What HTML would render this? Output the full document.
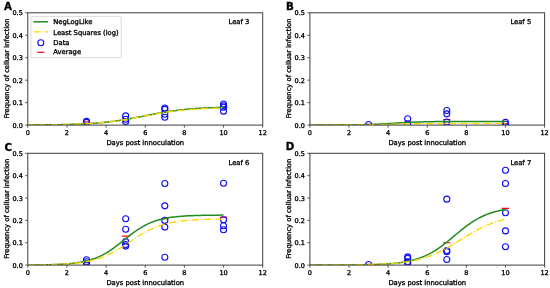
<!DOCTYPE html><html><head><meta charset="utf-8"><style>html,body{margin:0;padding:0;background:#fff}svg{display:block}</style></head><body><svg width="550" height="288" viewBox="0 0 550 288">
<rect width="550" height="288" fill="#fff"/>
<g>
<clipPath id="cA"><rect x="27.8" y="12.8" width="234.89999999999998" height="112.3"/></clipPath>
<g clip-path="url(#cA)">
<line x1="82.82" x2="90.22" y1="121.84" y2="121.84" stroke="#f80808" stroke-width="1.2"/>
<line x1="121.97" x2="129.38" y1="119.71" y2="119.71" stroke="#f80808" stroke-width="1.2"/>
<line x1="161.13" x2="168.53" y1="112.07" y2="112.07" stroke="#f80808" stroke-width="1.2"/>
<line x1="219.85" x2="227.25" y1="107.13" y2="107.13" stroke="#f80808" stroke-width="1.2"/>
<circle cx="86.52" cy="122.40" r="3.0" fill="none" stroke="#0c0cfa" stroke-width="1.1"/>
<circle cx="86.52" cy="121.28" r="3.0" fill="none" stroke="#0c0cfa" stroke-width="1.1"/>
<circle cx="125.67" cy="121.51" r="3.0" fill="none" stroke="#0c0cfa" stroke-width="1.1"/>
<circle cx="125.67" cy="119.26" r="3.0" fill="none" stroke="#0c0cfa" stroke-width="1.1"/>
<circle cx="125.67" cy="115.89" r="3.0" fill="none" stroke="#0c0cfa" stroke-width="1.1"/>
<circle cx="164.83" cy="117.24" r="3.0" fill="none" stroke="#0c0cfa" stroke-width="1.1"/>
<circle cx="164.83" cy="114.32" r="3.0" fill="none" stroke="#0c0cfa" stroke-width="1.1"/>
<circle cx="164.83" cy="109.38" r="3.0" fill="none" stroke="#0c0cfa" stroke-width="1.1"/>
<circle cx="164.83" cy="108.03" r="3.0" fill="none" stroke="#0c0cfa" stroke-width="1.1"/>
<circle cx="223.55" cy="111.17" r="3.0" fill="none" stroke="#0c0cfa" stroke-width="1.1"/>
<circle cx="223.55" cy="107.13" r="3.0" fill="none" stroke="#0c0cfa" stroke-width="1.1"/>
<circle cx="223.55" cy="105.78" r="3.0" fill="none" stroke="#0c0cfa" stroke-width="1.1"/>
<circle cx="223.55" cy="103.99" r="3.0" fill="none" stroke="#0c0cfa" stroke-width="1.1"/>
<polyline points="27.80,124.98 29.43,124.98 31.06,124.97 32.69,124.96 34.33,124.95 35.96,124.94 37.59,124.92 39.22,124.91 40.85,124.90 42.48,124.88 44.11,124.87 45.74,124.85 47.38,124.83 49.01,124.81 50.64,124.79 52.27,124.77 53.90,124.75 55.53,124.72 57.16,124.69 58.79,124.66 60.42,124.63 62.06,124.60 63.69,124.56 65.32,124.52 66.95,124.48 68.58,124.44 70.21,124.39 71.84,124.34 73.48,124.29 75.11,124.23 76.74,124.17 78.37,124.11 80.00,124.04 81.63,123.97 83.26,123.89 84.89,123.81 86.52,123.72 88.16,123.63 89.79,123.53 91.42,123.42 93.05,123.31 94.68,123.20 96.31,123.07 97.94,122.94 99.57,122.80 101.21,122.66 102.84,122.50 104.47,122.34 106.10,122.17 107.73,121.99 109.36,121.80 110.99,121.61 112.62,121.40 114.26,121.19 115.89,120.97 117.52,120.74 119.15,120.50 120.78,120.25 122.41,119.99 124.04,119.73 125.67,119.45 127.31,119.17 128.94,118.89 130.57,118.59 132.20,118.29 133.83,117.99 135.46,117.68 137.09,117.36 138.72,117.04 140.36,116.72 141.99,116.40 143.62,116.08 145.25,115.75 146.88,115.43 148.51,115.11 150.14,114.79 151.78,114.47 153.41,114.16 155.04,113.85 156.67,113.54 158.30,113.24 159.93,112.95 161.56,112.66 163.19,112.39 164.83,112.11 166.46,111.85 168.09,111.60 169.72,111.35 171.35,111.11 172.98,110.88 174.61,110.66 176.24,110.45 177.88,110.25 179.51,110.05 181.14,109.87 182.77,109.69 184.40,109.52 186.03,109.36 187.66,109.21 189.29,109.07 190.93,108.93 192.56,108.80 194.19,108.68 195.82,108.56 197.45,108.45 199.08,108.35 200.71,108.25 202.34,108.16 203.97,108.07 205.61,107.99 207.24,107.91 208.87,107.84 210.50,107.77 212.13,107.71 213.76,107.65 215.39,107.59 217.03,107.54 218.66,107.49 220.29,107.45 221.92,107.40 223.55,107.36" fill="none" stroke="#228B22" stroke-width="1.5"/>
<polyline points="27.80,124.98 29.43,124.98 31.06,124.97 32.69,124.96 34.33,124.95 35.96,124.93 37.59,124.92 39.22,124.91 40.85,124.90 42.48,124.88 44.11,124.87 45.74,124.85 47.38,124.83 49.01,124.81 50.64,124.79 52.27,124.77 53.90,124.74 55.53,124.72 57.16,124.69 58.79,124.66 60.42,124.63 62.06,124.60 63.69,124.56 65.32,124.52 66.95,124.48 68.58,124.44 70.21,124.39 71.84,124.34 73.48,124.29 75.11,124.23 76.74,124.17 78.37,124.11 80.00,124.04 81.63,123.97 83.26,123.89 84.89,123.81 86.52,123.72 88.16,123.63 89.79,123.53 91.42,123.42 93.05,123.31 94.68,123.19 96.31,123.07 97.94,122.94 99.57,122.80 101.21,122.66 102.84,122.50 104.47,122.34 106.10,122.18 107.73,122.00 109.36,121.81 110.99,121.62 112.62,121.42 114.26,121.21 115.89,120.99 117.52,120.76 119.15,120.52 120.78,120.28 122.41,120.03 124.04,119.77 125.67,119.50 127.31,119.23 128.94,118.95 130.57,118.66 132.20,118.37 133.83,118.07 135.46,117.77 137.09,117.46 138.72,117.16 140.36,116.85 141.99,116.53 143.62,116.22 145.25,115.91 146.88,115.60 148.51,115.29 150.14,114.98 151.78,114.68 153.41,114.38 155.04,114.08 156.67,113.79 158.30,113.51 159.93,113.23 161.56,112.96 163.19,112.70 164.83,112.44 166.46,112.19 168.09,111.95 169.72,111.72 171.35,111.49 172.98,111.28 174.61,111.07 176.24,110.87 177.88,110.68 179.51,110.50 181.14,110.33 182.77,110.16 184.40,110.00 186.03,109.85 187.66,109.71 189.29,109.58 190.93,109.45 192.56,109.33 194.19,109.21 195.82,109.10 197.45,109.00 199.08,108.91 200.71,108.81 202.34,108.73 203.97,108.65 205.61,108.57 207.24,108.50 208.87,108.44 210.50,108.37 212.13,108.31 213.76,108.26 215.39,108.21 217.03,108.16 218.66,108.11 220.29,108.07 221.92,108.03 223.55,107.99" fill="none" stroke="#FFD700" stroke-width="1.35" stroke-dasharray="7 1.75 1.1 1.75"/>
</g>
<rect x="27.8" y="12.8" width="234.89999999999998" height="112.3" fill="none" stroke="#3c3c3c" stroke-width="1.0"/>
<line x1="27.80" x2="27.80" y1="125.1" y2="127.69999999999999" stroke="#3c3c3c" stroke-width="0.85"/>
<text x="27.80" y="135.35" font-size="6.55" text-anchor="middle" font-family="DejaVu Sans, Liberation Sans, sans-serif" fill="#000" stroke="#000" stroke-width="0.32">0</text>
<line x1="66.95" x2="66.95" y1="125.1" y2="127.69999999999999" stroke="#3c3c3c" stroke-width="0.85"/>
<text x="66.95" y="135.35" font-size="6.55" text-anchor="middle" font-family="DejaVu Sans, Liberation Sans, sans-serif" fill="#000" stroke="#000" stroke-width="0.32">2</text>
<line x1="106.10" x2="106.10" y1="125.1" y2="127.69999999999999" stroke="#3c3c3c" stroke-width="0.85"/>
<text x="106.10" y="135.35" font-size="6.55" text-anchor="middle" font-family="DejaVu Sans, Liberation Sans, sans-serif" fill="#000" stroke="#000" stroke-width="0.32">4</text>
<line x1="145.25" x2="145.25" y1="125.1" y2="127.69999999999999" stroke="#3c3c3c" stroke-width="0.85"/>
<text x="145.25" y="135.35" font-size="6.55" text-anchor="middle" font-family="DejaVu Sans, Liberation Sans, sans-serif" fill="#000" stroke="#000" stroke-width="0.32">6</text>
<line x1="184.40" x2="184.40" y1="125.1" y2="127.69999999999999" stroke="#3c3c3c" stroke-width="0.85"/>
<text x="184.40" y="135.35" font-size="6.55" text-anchor="middle" font-family="DejaVu Sans, Liberation Sans, sans-serif" fill="#000" stroke="#000" stroke-width="0.32">8</text>
<line x1="223.55" x2="223.55" y1="125.1" y2="127.69999999999999" stroke="#3c3c3c" stroke-width="0.85"/>
<text x="223.55" y="135.35" font-size="6.55" text-anchor="middle" font-family="DejaVu Sans, Liberation Sans, sans-serif" fill="#000" stroke="#000" stroke-width="0.32">10</text>
<line x1="262.70" x2="262.70" y1="125.1" y2="127.69999999999999" stroke="#3c3c3c" stroke-width="0.85"/>
<text x="262.70" y="135.35" font-size="6.55" text-anchor="middle" font-family="DejaVu Sans, Liberation Sans, sans-serif" fill="#000" stroke="#000" stroke-width="0.32">12</text>
<line x1="25.2" x2="27.8" y1="125.10" y2="125.10" stroke="#3c3c3c" stroke-width="0.85"/>
<text x="22.8" y="127.70" font-size="6.5" text-anchor="end" font-family="DejaVu Sans, Liberation Sans, sans-serif" fill="#000" stroke="#000" stroke-width="0.32">0.0</text>
<line x1="25.2" x2="27.8" y1="102.64" y2="102.64" stroke="#3c3c3c" stroke-width="0.85"/>
<text x="22.8" y="105.24" font-size="6.5" text-anchor="end" font-family="DejaVu Sans, Liberation Sans, sans-serif" fill="#000" stroke="#000" stroke-width="0.32">0.1</text>
<line x1="25.2" x2="27.8" y1="80.18" y2="80.18" stroke="#3c3c3c" stroke-width="0.85"/>
<text x="22.8" y="82.78" font-size="6.5" text-anchor="end" font-family="DejaVu Sans, Liberation Sans, sans-serif" fill="#000" stroke="#000" stroke-width="0.32">0.2</text>
<line x1="25.2" x2="27.8" y1="57.72" y2="57.72" stroke="#3c3c3c" stroke-width="0.85"/>
<text x="22.8" y="60.32" font-size="6.5" text-anchor="end" font-family="DejaVu Sans, Liberation Sans, sans-serif" fill="#000" stroke="#000" stroke-width="0.32">0.3</text>
<line x1="25.2" x2="27.8" y1="35.26" y2="35.26" stroke="#3c3c3c" stroke-width="0.85"/>
<text x="22.8" y="37.86" font-size="6.5" text-anchor="end" font-family="DejaVu Sans, Liberation Sans, sans-serif" fill="#000" stroke="#000" stroke-width="0.32">0.4</text>
<line x1="25.2" x2="27.8" y1="12.80" y2="12.80" stroke="#3c3c3c" stroke-width="0.85"/>
<text x="22.8" y="15.40" font-size="6.5" text-anchor="end" font-family="DejaVu Sans, Liberation Sans, sans-serif" fill="#000" stroke="#000" stroke-width="0.32">0.5</text>
<text x="145.25" y="144.54999999999998" font-size="6.8" text-anchor="middle" font-family="DejaVu Sans, Liberation Sans, sans-serif" fill="#000" stroke="#000" stroke-width="0.32">Days post innoculation</text>
<text transform="translate(8.5,68.55) rotate(-90)" font-size="6.75" text-anchor="middle" font-family="DejaVu Sans, Liberation Sans, sans-serif" fill="#000" stroke="#000" stroke-width="0.32">Frequency of celluar infection</text>
<text x="249.29999999999998" y="24.450000000000003" font-size="6.75" text-anchor="end" font-family="DejaVu Sans, Liberation Sans, sans-serif" fill="#000" stroke="#000" stroke-width="0.32">Leaf 3</text>
<text x="4.100000000000001" y="9.700000000000001" font-size="10.3" font-weight="bold" font-family="DejaVu Sans, Liberation Sans, sans-serif" fill="#000" stroke="#000" stroke-width="0.3">A</text>
</g>
<g>
<clipPath id="cB"><rect x="309.9" y="12.8" width="234.70000000000005" height="112.3"/></clipPath>
<g clip-path="url(#cB)">
<line x1="364.88" x2="372.27" y1="124.43" y2="124.43" stroke="#f80808" stroke-width="1.2"/>
<line x1="403.99" x2="411.39" y1="122.40" y2="122.40" stroke="#f80808" stroke-width="1.2"/>
<line x1="443.11" x2="450.51" y1="119.48" y2="119.48" stroke="#f80808" stroke-width="1.2"/>
<line x1="501.78" x2="509.18" y1="123.53" y2="123.53" stroke="#f80808" stroke-width="1.2"/>
<circle cx="368.57" cy="124.43" r="3.0" fill="none" stroke="#0c0cfa" stroke-width="1.1"/>
<circle cx="407.69" cy="123.75" r="3.0" fill="none" stroke="#0c0cfa" stroke-width="1.1"/>
<circle cx="407.69" cy="118.70" r="3.0" fill="none" stroke="#0c0cfa" stroke-width="1.1"/>
<circle cx="446.81" cy="124.65" r="3.0" fill="none" stroke="#0c0cfa" stroke-width="1.1"/>
<circle cx="446.81" cy="121.96" r="3.0" fill="none" stroke="#0c0cfa" stroke-width="1.1"/>
<circle cx="446.81" cy="113.87" r="3.0" fill="none" stroke="#0c0cfa" stroke-width="1.1"/>
<circle cx="446.81" cy="110.50" r="3.0" fill="none" stroke="#0c0cfa" stroke-width="1.1"/>
<circle cx="505.48" cy="124.20" r="3.0" fill="none" stroke="#0c0cfa" stroke-width="1.1"/>
<circle cx="505.48" cy="122.40" r="3.0" fill="none" stroke="#0c0cfa" stroke-width="1.1"/>
<polyline points="309.90,125.09 311.53,125.08 313.16,125.08 314.79,125.08 316.42,125.08 318.05,125.08 319.68,125.07 321.31,125.07 322.94,125.07 324.57,125.06 326.20,125.06 327.83,125.05 329.46,125.05 331.09,125.04 332.72,125.04 334.35,125.03 335.98,125.02 337.61,125.01 339.24,125.01 340.87,124.99 342.50,124.98 344.13,124.97 345.76,124.96 347.39,124.94 349.02,124.92 350.65,124.90 352.28,124.88 353.91,124.86 355.54,124.83 357.17,124.81 358.80,124.77 360.43,124.74 362.06,124.70 363.69,124.66 365.32,124.62 366.95,124.57 368.57,124.52 370.20,124.47 371.83,124.41 373.46,124.35 375.09,124.28 376.72,124.21 378.35,124.13 379.98,124.05 381.61,123.97 383.24,123.88 384.87,123.79 386.50,123.70 388.13,123.60 389.76,123.51 391.39,123.41 393.02,123.31 394.65,123.21 396.28,123.11 397.91,123.01 399.54,122.91 401.17,122.81 402.80,122.72 404.43,122.63 406.06,122.54 407.69,122.46 409.32,122.38 410.95,122.30 412.58,122.23 414.21,122.16 415.84,122.10 417.47,122.04 419.10,121.98 420.73,121.93 422.36,121.88 423.99,121.84 425.62,121.80 427.25,121.76 428.88,121.73 430.51,121.69 432.14,121.67 433.77,121.64 435.40,121.62 437.03,121.59 438.66,121.58 440.29,121.56 441.92,121.54 443.55,121.53 445.18,121.51 446.81,121.50 448.44,121.49 450.07,121.48 451.70,121.47 453.33,121.46 454.96,121.46 456.59,121.45 458.22,121.45 459.85,121.44 461.48,121.44 463.11,121.43 464.74,121.43 466.37,121.42 468.00,121.42 469.63,121.42 471.26,121.42 472.89,121.41 474.52,121.41 476.15,121.41 477.78,121.41 479.41,121.41 481.04,121.41 482.67,121.40 484.30,121.40 485.93,121.40 487.55,121.40 489.18,121.40 490.81,121.40 492.44,121.40 494.07,121.40 495.70,121.40 497.33,121.40 498.96,121.40 500.59,121.40 502.22,121.40 503.85,121.40 505.48,121.40" fill="none" stroke="#228B22" stroke-width="1.5"/>
<polyline points="309.90,125.09 311.53,125.09 313.16,125.09 314.79,125.09 316.42,125.09 318.05,125.09 319.68,125.09 321.31,125.09 322.94,125.09 324.57,125.08 326.20,125.08 327.83,125.08 329.46,125.08 331.09,125.07 332.72,125.07 334.35,125.07 335.98,125.07 337.61,125.06 339.24,125.06 340.87,125.05 342.50,125.05 344.13,125.04 345.76,125.03 347.39,125.03 349.02,125.02 350.65,125.01 352.28,125.00 353.91,124.99 355.54,124.98 357.17,124.97 358.80,124.95 360.43,124.94 362.06,124.92 363.69,124.90 365.32,124.88 366.95,124.86 368.57,124.84 370.20,124.81 371.83,124.79 373.46,124.76 375.09,124.73 376.72,124.69 378.35,124.66 379.98,124.62 381.61,124.59 383.24,124.55 384.87,124.51 386.50,124.46 388.13,124.42 389.76,124.38 391.39,124.33 393.02,124.29 394.65,124.24 396.28,124.19 397.91,124.15 399.54,124.10 401.17,124.06 402.80,124.02 404.43,123.98 406.06,123.94 407.69,123.90 409.32,123.86 410.95,123.83 412.58,123.80 414.21,123.76 415.84,123.74 417.47,123.71 419.10,123.68 420.73,123.66 422.36,123.64 423.99,123.62 425.62,123.60 427.25,123.58 428.88,123.57 430.51,123.55 432.14,123.54 433.77,123.53 435.40,123.52 437.03,123.51 438.66,123.50 440.29,123.49 441.92,123.48 443.55,123.48 445.18,123.47 446.81,123.46 448.44,123.46 450.07,123.46 451.70,123.45 453.33,123.45 454.96,123.44 456.59,123.44 458.22,123.44 459.85,123.44 461.48,123.43 463.11,123.43 464.74,123.43 466.37,123.43 468.00,123.43 469.63,123.43 471.26,123.43 472.89,123.42 474.52,123.42 476.15,123.42 477.78,123.42 479.41,123.42 481.04,123.42 482.67,123.42 484.30,123.42 485.93,123.42 487.55,123.42 489.18,123.42 490.81,123.42 492.44,123.42 494.07,123.42 495.70,123.42 497.33,123.42 498.96,123.42 500.59,123.42 502.22,123.42 503.85,123.42 505.48,123.42" fill="none" stroke="#FFD700" stroke-width="1.35" stroke-dasharray="7 1.75 1.1 1.75"/>
</g>
<rect x="309.9" y="12.8" width="234.70000000000005" height="112.3" fill="none" stroke="#3c3c3c" stroke-width="1.0"/>
<line x1="309.90" x2="309.90" y1="125.1" y2="127.69999999999999" stroke="#3c3c3c" stroke-width="0.85"/>
<text x="309.90" y="135.35" font-size="6.55" text-anchor="middle" font-family="DejaVu Sans, Liberation Sans, sans-serif" fill="#000" stroke="#000" stroke-width="0.32">0</text>
<line x1="349.02" x2="349.02" y1="125.1" y2="127.69999999999999" stroke="#3c3c3c" stroke-width="0.85"/>
<text x="349.02" y="135.35" font-size="6.55" text-anchor="middle" font-family="DejaVu Sans, Liberation Sans, sans-serif" fill="#000" stroke="#000" stroke-width="0.32">2</text>
<line x1="388.13" x2="388.13" y1="125.1" y2="127.69999999999999" stroke="#3c3c3c" stroke-width="0.85"/>
<text x="388.13" y="135.35" font-size="6.55" text-anchor="middle" font-family="DejaVu Sans, Liberation Sans, sans-serif" fill="#000" stroke="#000" stroke-width="0.32">4</text>
<line x1="427.25" x2="427.25" y1="125.1" y2="127.69999999999999" stroke="#3c3c3c" stroke-width="0.85"/>
<text x="427.25" y="135.35" font-size="6.55" text-anchor="middle" font-family="DejaVu Sans, Liberation Sans, sans-serif" fill="#000" stroke="#000" stroke-width="0.32">6</text>
<line x1="466.37" x2="466.37" y1="125.1" y2="127.69999999999999" stroke="#3c3c3c" stroke-width="0.85"/>
<text x="466.37" y="135.35" font-size="6.55" text-anchor="middle" font-family="DejaVu Sans, Liberation Sans, sans-serif" fill="#000" stroke="#000" stroke-width="0.32">8</text>
<line x1="505.48" x2="505.48" y1="125.1" y2="127.69999999999999" stroke="#3c3c3c" stroke-width="0.85"/>
<text x="505.48" y="135.35" font-size="6.55" text-anchor="middle" font-family="DejaVu Sans, Liberation Sans, sans-serif" fill="#000" stroke="#000" stroke-width="0.32">10</text>
<line x1="544.60" x2="544.60" y1="125.1" y2="127.69999999999999" stroke="#3c3c3c" stroke-width="0.85"/>
<text x="544.60" y="135.35" font-size="6.55" text-anchor="middle" font-family="DejaVu Sans, Liberation Sans, sans-serif" fill="#000" stroke="#000" stroke-width="0.32">12</text>
<line x1="307.29999999999995" x2="309.9" y1="125.10" y2="125.10" stroke="#3c3c3c" stroke-width="0.85"/>
<text x="304.9" y="127.70" font-size="6.5" text-anchor="end" font-family="DejaVu Sans, Liberation Sans, sans-serif" fill="#000" stroke="#000" stroke-width="0.32">0.0</text>
<line x1="307.29999999999995" x2="309.9" y1="102.64" y2="102.64" stroke="#3c3c3c" stroke-width="0.85"/>
<text x="304.9" y="105.24" font-size="6.5" text-anchor="end" font-family="DejaVu Sans, Liberation Sans, sans-serif" fill="#000" stroke="#000" stroke-width="0.32">0.1</text>
<line x1="307.29999999999995" x2="309.9" y1="80.18" y2="80.18" stroke="#3c3c3c" stroke-width="0.85"/>
<text x="304.9" y="82.78" font-size="6.5" text-anchor="end" font-family="DejaVu Sans, Liberation Sans, sans-serif" fill="#000" stroke="#000" stroke-width="0.32">0.2</text>
<line x1="307.29999999999995" x2="309.9" y1="57.72" y2="57.72" stroke="#3c3c3c" stroke-width="0.85"/>
<text x="304.9" y="60.32" font-size="6.5" text-anchor="end" font-family="DejaVu Sans, Liberation Sans, sans-serif" fill="#000" stroke="#000" stroke-width="0.32">0.3</text>
<line x1="307.29999999999995" x2="309.9" y1="35.26" y2="35.26" stroke="#3c3c3c" stroke-width="0.85"/>
<text x="304.9" y="37.86" font-size="6.5" text-anchor="end" font-family="DejaVu Sans, Liberation Sans, sans-serif" fill="#000" stroke="#000" stroke-width="0.32">0.4</text>
<line x1="307.29999999999995" x2="309.9" y1="12.80" y2="12.80" stroke="#3c3c3c" stroke-width="0.85"/>
<text x="304.9" y="15.40" font-size="6.5" text-anchor="end" font-family="DejaVu Sans, Liberation Sans, sans-serif" fill="#000" stroke="#000" stroke-width="0.32">0.5</text>
<text x="427.25" y="144.54999999999998" font-size="6.8" text-anchor="middle" font-family="DejaVu Sans, Liberation Sans, sans-serif" fill="#000" stroke="#000" stroke-width="0.32">Days post innoculation</text>
<text transform="translate(290.59999999999997,68.55) rotate(-90)" font-size="6.75" text-anchor="middle" font-family="DejaVu Sans, Liberation Sans, sans-serif" fill="#000" stroke="#000" stroke-width="0.32">Frequency of celluar infection</text>
<text x="531.2" y="24.450000000000003" font-size="6.75" text-anchor="end" font-family="DejaVu Sans, Liberation Sans, sans-serif" fill="#000" stroke="#000" stroke-width="0.32">Leaf 5</text>
<text x="285.9" y="9.700000000000001" font-size="10.3" font-weight="bold" font-family="DejaVu Sans, Liberation Sans, sans-serif" fill="#000" stroke="#000" stroke-width="0.3">B</text>
</g>
<g>
<clipPath id="cC"><rect x="27.8" y="153.3" width="234.89999999999998" height="111.80000000000001"/></clipPath>
<g clip-path="url(#cC)">
<line x1="82.82" x2="90.22" y1="262.19" y2="262.19" stroke="#f80808" stroke-width="1.2"/>
<line x1="121.97" x2="129.38" y1="236.03" y2="236.03" stroke="#f80808" stroke-width="1.2"/>
<line x1="161.13" x2="168.53" y1="218.59" y2="218.59" stroke="#f80808" stroke-width="1.2"/>
<line x1="219.85" x2="227.25" y1="217.03" y2="217.03" stroke="#f80808" stroke-width="1.2"/>
<circle cx="86.52" cy="263.76" r="3.0" fill="none" stroke="#0c0cfa" stroke-width="1.1"/>
<circle cx="86.52" cy="261.75" r="3.0" fill="none" stroke="#0c0cfa" stroke-width="1.1"/>
<circle cx="86.52" cy="259.73" r="3.0" fill="none" stroke="#0c0cfa" stroke-width="1.1"/>
<circle cx="125.67" cy="246.09" r="3.0" fill="none" stroke="#0c0cfa" stroke-width="1.1"/>
<circle cx="125.67" cy="244.53" r="3.0" fill="none" stroke="#0c0cfa" stroke-width="1.1"/>
<circle cx="125.67" cy="241.62" r="3.0" fill="none" stroke="#0c0cfa" stroke-width="1.1"/>
<circle cx="125.67" cy="229.32" r="3.0" fill="none" stroke="#0c0cfa" stroke-width="1.1"/>
<circle cx="125.67" cy="218.81" r="3.0" fill="none" stroke="#0c0cfa" stroke-width="1.1"/>
<circle cx="164.83" cy="257.27" r="3.0" fill="none" stroke="#0c0cfa" stroke-width="1.1"/>
<circle cx="164.83" cy="227.09" r="3.0" fill="none" stroke="#0c0cfa" stroke-width="1.1"/>
<circle cx="164.83" cy="220.38" r="3.0" fill="none" stroke="#0c0cfa" stroke-width="1.1"/>
<circle cx="164.83" cy="205.85" r="3.0" fill="none" stroke="#0c0cfa" stroke-width="1.1"/>
<circle cx="164.83" cy="183.49" r="3.0" fill="none" stroke="#0c0cfa" stroke-width="1.1"/>
<circle cx="223.55" cy="229.77" r="3.0" fill="none" stroke="#0c0cfa" stroke-width="1.1"/>
<circle cx="223.55" cy="225.75" r="3.0" fill="none" stroke="#0c0cfa" stroke-width="1.1"/>
<circle cx="223.55" cy="219.71" r="3.0" fill="none" stroke="#0c0cfa" stroke-width="1.1"/>
<circle cx="223.55" cy="183.26" r="3.0" fill="none" stroke="#0c0cfa" stroke-width="1.1"/>
<polyline points="27.80,264.99 29.43,264.98 31.06,264.97 32.69,264.96 34.33,264.94 35.96,264.92 37.59,264.90 39.22,264.88 40.85,264.86 42.48,264.83 44.11,264.80 45.74,264.77 47.38,264.73 49.01,264.69 50.64,264.65 52.27,264.60 53.90,264.55 55.53,264.48 57.16,264.42 58.79,264.34 60.42,264.26 62.06,264.17 63.69,264.07 65.32,263.96 66.95,263.84 68.58,263.70 70.21,263.55 71.84,263.39 73.48,263.21 75.11,263.01 76.74,262.79 78.37,262.55 80.00,262.28 81.63,261.99 83.26,261.67 84.89,261.32 86.52,260.94 88.16,260.52 89.79,260.07 91.42,259.58 93.05,259.04 94.68,258.46 96.31,257.84 97.94,257.16 99.57,256.44 101.21,255.67 102.84,254.84 104.47,253.96 106.10,253.03 107.73,252.05 109.36,251.01 110.99,249.93 112.62,248.81 114.26,247.64 115.89,246.43 117.52,245.19 119.15,243.92 120.78,242.64 122.41,241.34 124.04,240.03 125.67,238.72 127.31,237.42 128.94,236.14 130.57,234.87 132.20,233.63 133.83,232.43 135.46,231.26 137.09,230.14 138.72,229.06 140.36,228.03 141.99,227.04 143.62,226.12 145.25,225.24 146.88,224.41 148.51,223.64 150.14,222.92 151.78,222.25 153.41,221.63 155.04,221.05 156.67,220.52 158.30,220.03 159.93,219.57 161.56,219.16 163.19,218.78 164.83,218.43 166.46,218.11 168.09,217.82 169.72,217.56 171.35,217.32 172.98,217.10 174.61,216.90 176.24,216.72 177.88,216.55 179.51,216.41 181.14,216.27 182.77,216.15 184.40,216.04 186.03,215.94 187.66,215.85 189.29,215.77 190.93,215.69 192.56,215.63 194.19,215.57 195.82,215.51 197.45,215.46 199.08,215.42 200.71,215.38 202.34,215.34 203.97,215.31 205.61,215.28 207.24,215.25 208.87,215.23 210.50,215.21 212.13,215.19 213.76,215.17 215.39,215.16 217.03,215.14 218.66,215.13 220.29,215.12 221.92,215.11 223.55,215.10" fill="none" stroke="#228B22" stroke-width="1.5"/>
<polyline points="27.80,264.97 29.43,264.96 31.06,264.95 32.69,264.93 34.33,264.91 35.96,264.90 37.59,264.88 39.22,264.85 40.85,264.83 42.48,264.80 44.11,264.77 45.74,264.74 47.38,264.71 49.01,264.67 50.64,264.63 52.27,264.58 53.90,264.53 55.53,264.47 57.16,264.41 58.79,264.34 60.42,264.27 62.06,264.19 63.69,264.10 65.32,264.00 66.95,263.90 68.58,263.78 70.21,263.66 71.84,263.52 73.48,263.37 75.11,263.20 76.74,263.03 78.37,262.83 80.00,262.62 81.63,262.39 83.26,262.13 84.89,261.86 86.52,261.56 88.16,261.24 89.79,260.90 91.42,260.52 93.05,260.12 94.68,259.68 96.31,259.21 97.94,258.71 99.57,258.17 101.21,257.60 102.84,256.99 104.47,256.33 106.10,255.64 107.73,254.91 109.36,254.14 110.99,253.33 112.62,252.49 114.26,251.60 115.89,250.68 117.52,249.73 119.15,248.74 120.78,247.73 122.41,246.70 124.04,245.64 125.67,244.57 127.31,243.48 128.94,242.39 130.57,241.30 132.20,240.21 133.83,239.13 135.46,238.06 137.09,237.01 138.72,235.98 140.36,234.97 141.99,233.99 143.62,233.05 145.25,232.13 146.88,231.26 148.51,230.42 150.14,229.61 151.78,228.85 153.41,228.13 155.04,227.45 156.67,226.80 158.30,226.20 159.93,225.63 161.56,225.10 163.19,224.61 164.83,224.14 166.46,223.71 168.09,223.32 169.72,222.95 171.35,222.60 172.98,222.29 174.61,222.00 176.24,221.73 177.88,221.48 179.51,221.25 181.14,221.04 182.77,220.85 184.40,220.68 186.03,220.51 187.66,220.37 189.29,220.23 190.93,220.11 192.56,219.99 194.19,219.89 195.82,219.80 197.45,219.71 199.08,219.63 200.71,219.56 202.34,219.49 203.97,219.43 205.61,219.38 207.24,219.33 208.87,219.28 210.50,219.24 212.13,219.20 213.76,219.17 215.39,219.14 217.03,219.11 218.66,219.08 220.29,219.06 221.92,219.03 223.55,219.02" fill="none" stroke="#FFD700" stroke-width="1.35" stroke-dasharray="7 1.75 1.1 1.75"/>
</g>
<rect x="27.8" y="153.3" width="234.89999999999998" height="111.80000000000001" fill="none" stroke="#3c3c3c" stroke-width="1.0"/>
<line x1="27.80" x2="27.80" y1="265.1" y2="267.70000000000005" stroke="#3c3c3c" stroke-width="0.85"/>
<text x="27.80" y="275.35" font-size="6.55" text-anchor="middle" font-family="DejaVu Sans, Liberation Sans, sans-serif" fill="#000" stroke="#000" stroke-width="0.32">0</text>
<line x1="66.95" x2="66.95" y1="265.1" y2="267.70000000000005" stroke="#3c3c3c" stroke-width="0.85"/>
<text x="66.95" y="275.35" font-size="6.55" text-anchor="middle" font-family="DejaVu Sans, Liberation Sans, sans-serif" fill="#000" stroke="#000" stroke-width="0.32">2</text>
<line x1="106.10" x2="106.10" y1="265.1" y2="267.70000000000005" stroke="#3c3c3c" stroke-width="0.85"/>
<text x="106.10" y="275.35" font-size="6.55" text-anchor="middle" font-family="DejaVu Sans, Liberation Sans, sans-serif" fill="#000" stroke="#000" stroke-width="0.32">4</text>
<line x1="145.25" x2="145.25" y1="265.1" y2="267.70000000000005" stroke="#3c3c3c" stroke-width="0.85"/>
<text x="145.25" y="275.35" font-size="6.55" text-anchor="middle" font-family="DejaVu Sans, Liberation Sans, sans-serif" fill="#000" stroke="#000" stroke-width="0.32">6</text>
<line x1="184.40" x2="184.40" y1="265.1" y2="267.70000000000005" stroke="#3c3c3c" stroke-width="0.85"/>
<text x="184.40" y="275.35" font-size="6.55" text-anchor="middle" font-family="DejaVu Sans, Liberation Sans, sans-serif" fill="#000" stroke="#000" stroke-width="0.32">8</text>
<line x1="223.55" x2="223.55" y1="265.1" y2="267.70000000000005" stroke="#3c3c3c" stroke-width="0.85"/>
<text x="223.55" y="275.35" font-size="6.55" text-anchor="middle" font-family="DejaVu Sans, Liberation Sans, sans-serif" fill="#000" stroke="#000" stroke-width="0.32">10</text>
<line x1="262.70" x2="262.70" y1="265.1" y2="267.70000000000005" stroke="#3c3c3c" stroke-width="0.85"/>
<text x="262.70" y="275.35" font-size="6.55" text-anchor="middle" font-family="DejaVu Sans, Liberation Sans, sans-serif" fill="#000" stroke="#000" stroke-width="0.32">12</text>
<line x1="25.2" x2="27.8" y1="265.10" y2="265.10" stroke="#3c3c3c" stroke-width="0.85"/>
<text x="22.8" y="267.70" font-size="6.5" text-anchor="end" font-family="DejaVu Sans, Liberation Sans, sans-serif" fill="#000" stroke="#000" stroke-width="0.32">0.0</text>
<line x1="25.2" x2="27.8" y1="242.74" y2="242.74" stroke="#3c3c3c" stroke-width="0.85"/>
<text x="22.8" y="245.34" font-size="6.5" text-anchor="end" font-family="DejaVu Sans, Liberation Sans, sans-serif" fill="#000" stroke="#000" stroke-width="0.32">0.1</text>
<line x1="25.2" x2="27.8" y1="220.38" y2="220.38" stroke="#3c3c3c" stroke-width="0.85"/>
<text x="22.8" y="222.98" font-size="6.5" text-anchor="end" font-family="DejaVu Sans, Liberation Sans, sans-serif" fill="#000" stroke="#000" stroke-width="0.32">0.2</text>
<line x1="25.2" x2="27.8" y1="198.02" y2="198.02" stroke="#3c3c3c" stroke-width="0.85"/>
<text x="22.8" y="200.62" font-size="6.5" text-anchor="end" font-family="DejaVu Sans, Liberation Sans, sans-serif" fill="#000" stroke="#000" stroke-width="0.32">0.3</text>
<line x1="25.2" x2="27.8" y1="175.66" y2="175.66" stroke="#3c3c3c" stroke-width="0.85"/>
<text x="22.8" y="178.26" font-size="6.5" text-anchor="end" font-family="DejaVu Sans, Liberation Sans, sans-serif" fill="#000" stroke="#000" stroke-width="0.32">0.4</text>
<line x1="25.2" x2="27.8" y1="153.30" y2="153.30" stroke="#3c3c3c" stroke-width="0.85"/>
<text x="22.8" y="155.90" font-size="6.5" text-anchor="end" font-family="DejaVu Sans, Liberation Sans, sans-serif" fill="#000" stroke="#000" stroke-width="0.32">0.5</text>
<text x="145.25" y="284.55" font-size="6.8" text-anchor="middle" font-family="DejaVu Sans, Liberation Sans, sans-serif" fill="#000" stroke="#000" stroke-width="0.32">Days post innoculation</text>
<text transform="translate(8.5,208.8) rotate(-90)" font-size="6.75" text-anchor="middle" font-family="DejaVu Sans, Liberation Sans, sans-serif" fill="#000" stroke="#000" stroke-width="0.32">Frequency of celluar infection</text>
<text x="249.29999999999998" y="164.95000000000002" font-size="6.75" text-anchor="end" font-family="DejaVu Sans, Liberation Sans, sans-serif" fill="#000" stroke="#000" stroke-width="0.32">Leaf 6</text>
<text x="4.500000000000002" y="150.60000000000002" font-size="10.3" font-weight="bold" font-family="DejaVu Sans, Liberation Sans, sans-serif" fill="#000" stroke="#000" stroke-width="0.3">C</text>
</g>
<g>
<clipPath id="cD"><rect x="309.9" y="153.3" width="234.70000000000005" height="111.80000000000001"/></clipPath>
<g clip-path="url(#cD)">
<line x1="364.88" x2="372.27" y1="264.43" y2="264.43" stroke="#f80808" stroke-width="1.2"/>
<line x1="403.99" x2="411.39" y1="260.18" y2="260.18" stroke="#f80808" stroke-width="1.2"/>
<line x1="443.11" x2="450.51" y1="242.74" y2="242.74" stroke="#f80808" stroke-width="1.2"/>
<line x1="501.78" x2="509.18" y1="208.37" y2="208.37" stroke="#f80808" stroke-width="1.2"/>
<circle cx="368.57" cy="264.43" r="3.0" fill="none" stroke="#0c0cfa" stroke-width="1.1"/>
<circle cx="407.69" cy="263.31" r="3.0" fill="none" stroke="#0c0cfa" stroke-width="1.1"/>
<circle cx="407.69" cy="261.75" r="3.0" fill="none" stroke="#0c0cfa" stroke-width="1.1"/>
<circle cx="407.69" cy="258.39" r="3.0" fill="none" stroke="#0c0cfa" stroke-width="1.1"/>
<circle cx="407.69" cy="256.83" r="3.0" fill="none" stroke="#0c0cfa" stroke-width="1.1"/>
<circle cx="446.81" cy="259.51" r="3.0" fill="none" stroke="#0c0cfa" stroke-width="1.1"/>
<circle cx="446.81" cy="251.68" r="3.0" fill="none" stroke="#0c0cfa" stroke-width="1.1"/>
<circle cx="446.81" cy="250.57" r="3.0" fill="none" stroke="#0c0cfa" stroke-width="1.1"/>
<circle cx="446.81" cy="199.14" r="3.0" fill="none" stroke="#0c0cfa" stroke-width="1.1"/>
<circle cx="505.48" cy="246.76" r="3.0" fill="none" stroke="#0c0cfa" stroke-width="1.1"/>
<circle cx="505.48" cy="230.89" r="3.0" fill="none" stroke="#0c0cfa" stroke-width="1.1"/>
<circle cx="505.48" cy="212.78" r="3.0" fill="none" stroke="#0c0cfa" stroke-width="1.1"/>
<circle cx="505.48" cy="183.49" r="3.0" fill="none" stroke="#0c0cfa" stroke-width="1.1"/>
<circle cx="505.48" cy="170.29" r="3.0" fill="none" stroke="#0c0cfa" stroke-width="1.1"/>
<polyline points="309.90,265.09 311.53,265.08 313.16,265.08 314.79,265.08 316.42,265.08 318.05,265.08 319.68,265.07 321.31,265.07 322.94,265.07 324.57,265.07 326.20,265.06 327.83,265.06 329.46,265.05 331.09,265.05 332.72,265.04 334.35,265.04 335.98,265.03 337.61,265.03 339.24,265.02 340.87,265.01 342.50,265.00 344.13,264.99 345.76,264.98 347.39,264.97 349.02,264.96 350.65,264.95 352.28,264.93 353.91,264.91 355.54,264.90 357.17,264.88 358.80,264.86 360.43,264.83 362.06,264.81 363.69,264.78 365.32,264.75 366.95,264.71 368.57,264.67 370.20,264.63 371.83,264.59 373.46,264.54 375.09,264.48 376.72,264.42 378.35,264.36 379.98,264.28 381.61,264.21 383.24,264.12 384.87,264.03 386.50,263.92 388.13,263.81 389.76,263.69 391.39,263.55 393.02,263.41 394.65,263.24 396.28,263.07 397.91,262.88 399.54,262.67 401.17,262.44 402.80,262.20 404.43,261.93 406.06,261.64 407.69,261.32 409.32,260.97 410.95,260.60 412.58,260.20 414.21,259.76 415.84,259.29 417.47,258.78 419.10,258.24 420.73,257.65 422.36,257.03 423.99,256.35 425.62,255.64 427.25,254.87 428.88,254.06 430.51,253.20 432.14,252.29 433.77,251.33 435.40,250.32 437.03,249.27 438.66,248.17 440.29,247.02 441.92,245.84 443.55,244.61 445.18,243.35 446.81,242.06 448.44,240.74 450.07,239.40 451.70,238.05 453.33,236.69 454.96,235.32 456.59,233.96 458.22,232.60 459.85,231.26 461.48,229.93 463.11,228.64 464.74,227.37 466.37,226.13 468.00,224.93 469.63,223.77 471.26,222.66 472.89,221.59 474.52,220.57 476.15,219.60 477.78,218.67 479.41,217.80 481.04,216.97 482.67,216.20 484.30,215.47 485.93,214.78 487.55,214.14 489.18,213.54 490.81,212.98 492.44,212.47 494.07,211.99 495.70,211.54 497.33,211.13 498.96,210.75 500.59,210.40 502.22,210.07 503.85,209.77 505.48,209.50" fill="none" stroke="#228B22" stroke-width="1.5"/>
<polyline points="309.90,265.07 311.53,265.06 313.16,265.06 314.79,265.06 316.42,265.06 318.05,265.05 319.68,265.05 321.31,265.04 322.94,265.04 324.57,265.03 326.20,265.03 327.83,265.02 329.46,265.02 331.09,265.01 332.72,265.00 334.35,264.99 335.98,264.98 337.61,264.97 339.24,264.96 340.87,264.95 342.50,264.94 344.13,264.93 345.76,264.91 347.39,264.90 349.02,264.88 350.65,264.86 352.28,264.85 353.91,264.82 355.54,264.80 357.17,264.78 358.80,264.75 360.43,264.72 362.06,264.69 363.69,264.66 365.32,264.62 366.95,264.58 368.57,264.54 370.20,264.50 371.83,264.45 373.46,264.39 375.09,264.34 376.72,264.28 378.35,264.21 379.98,264.14 381.61,264.06 383.24,263.97 384.87,263.88 386.50,263.79 388.13,263.68 389.76,263.57 391.39,263.45 393.02,263.31 394.65,263.17 396.28,263.02 397.91,262.86 399.54,262.68 401.17,262.49 402.80,262.29 404.43,262.07 406.06,261.84 407.69,261.59 409.32,261.32 410.95,261.03 412.58,260.72 414.21,260.40 415.84,260.05 417.47,259.67 419.10,259.28 420.73,258.86 422.36,258.41 423.99,257.93 425.62,257.43 427.25,256.90 428.88,256.34 430.51,255.75 432.14,255.13 433.77,254.48 435.40,253.79 437.03,253.08 438.66,252.34 440.29,251.56 441.92,250.76 443.55,249.92 445.18,249.06 446.81,248.18 448.44,247.27 450.07,246.33 451.70,245.38 453.33,244.41 454.96,243.42 456.59,242.43 458.22,241.42 459.85,240.40 461.48,239.39 463.11,238.37 464.74,237.35 466.37,236.35 468.00,235.35 469.63,234.36 471.26,233.39 472.89,232.44 474.52,231.50 476.15,230.59 477.78,229.71 479.41,228.85 481.04,228.01 482.67,227.21 484.30,226.44 485.93,225.69 487.55,224.98 489.18,224.29 490.81,223.64 492.44,223.02 494.07,222.43 495.70,221.87 497.33,221.34 498.96,220.84 500.59,220.36 502.22,219.92 503.85,219.49 505.48,219.10" fill="none" stroke="#FFD700" stroke-width="1.35" stroke-dasharray="7 1.75 1.1 1.75"/>
</g>
<rect x="309.9" y="153.3" width="234.70000000000005" height="111.80000000000001" fill="none" stroke="#3c3c3c" stroke-width="1.0"/>
<line x1="309.90" x2="309.90" y1="265.1" y2="267.70000000000005" stroke="#3c3c3c" stroke-width="0.85"/>
<text x="309.90" y="275.35" font-size="6.55" text-anchor="middle" font-family="DejaVu Sans, Liberation Sans, sans-serif" fill="#000" stroke="#000" stroke-width="0.32">0</text>
<line x1="349.02" x2="349.02" y1="265.1" y2="267.70000000000005" stroke="#3c3c3c" stroke-width="0.85"/>
<text x="349.02" y="275.35" font-size="6.55" text-anchor="middle" font-family="DejaVu Sans, Liberation Sans, sans-serif" fill="#000" stroke="#000" stroke-width="0.32">2</text>
<line x1="388.13" x2="388.13" y1="265.1" y2="267.70000000000005" stroke="#3c3c3c" stroke-width="0.85"/>
<text x="388.13" y="275.35" font-size="6.55" text-anchor="middle" font-family="DejaVu Sans, Liberation Sans, sans-serif" fill="#000" stroke="#000" stroke-width="0.32">4</text>
<line x1="427.25" x2="427.25" y1="265.1" y2="267.70000000000005" stroke="#3c3c3c" stroke-width="0.85"/>
<text x="427.25" y="275.35" font-size="6.55" text-anchor="middle" font-family="DejaVu Sans, Liberation Sans, sans-serif" fill="#000" stroke="#000" stroke-width="0.32">6</text>
<line x1="466.37" x2="466.37" y1="265.1" y2="267.70000000000005" stroke="#3c3c3c" stroke-width="0.85"/>
<text x="466.37" y="275.35" font-size="6.55" text-anchor="middle" font-family="DejaVu Sans, Liberation Sans, sans-serif" fill="#000" stroke="#000" stroke-width="0.32">8</text>
<line x1="505.48" x2="505.48" y1="265.1" y2="267.70000000000005" stroke="#3c3c3c" stroke-width="0.85"/>
<text x="505.48" y="275.35" font-size="6.55" text-anchor="middle" font-family="DejaVu Sans, Liberation Sans, sans-serif" fill="#000" stroke="#000" stroke-width="0.32">10</text>
<line x1="544.60" x2="544.60" y1="265.1" y2="267.70000000000005" stroke="#3c3c3c" stroke-width="0.85"/>
<text x="544.60" y="275.35" font-size="6.55" text-anchor="middle" font-family="DejaVu Sans, Liberation Sans, sans-serif" fill="#000" stroke="#000" stroke-width="0.32">12</text>
<line x1="307.29999999999995" x2="309.9" y1="265.10" y2="265.10" stroke="#3c3c3c" stroke-width="0.85"/>
<text x="304.9" y="267.70" font-size="6.5" text-anchor="end" font-family="DejaVu Sans, Liberation Sans, sans-serif" fill="#000" stroke="#000" stroke-width="0.32">0.0</text>
<line x1="307.29999999999995" x2="309.9" y1="242.74" y2="242.74" stroke="#3c3c3c" stroke-width="0.85"/>
<text x="304.9" y="245.34" font-size="6.5" text-anchor="end" font-family="DejaVu Sans, Liberation Sans, sans-serif" fill="#000" stroke="#000" stroke-width="0.32">0.1</text>
<line x1="307.29999999999995" x2="309.9" y1="220.38" y2="220.38" stroke="#3c3c3c" stroke-width="0.85"/>
<text x="304.9" y="222.98" font-size="6.5" text-anchor="end" font-family="DejaVu Sans, Liberation Sans, sans-serif" fill="#000" stroke="#000" stroke-width="0.32">0.2</text>
<line x1="307.29999999999995" x2="309.9" y1="198.02" y2="198.02" stroke="#3c3c3c" stroke-width="0.85"/>
<text x="304.9" y="200.62" font-size="6.5" text-anchor="end" font-family="DejaVu Sans, Liberation Sans, sans-serif" fill="#000" stroke="#000" stroke-width="0.32">0.3</text>
<line x1="307.29999999999995" x2="309.9" y1="175.66" y2="175.66" stroke="#3c3c3c" stroke-width="0.85"/>
<text x="304.9" y="178.26" font-size="6.5" text-anchor="end" font-family="DejaVu Sans, Liberation Sans, sans-serif" fill="#000" stroke="#000" stroke-width="0.32">0.4</text>
<line x1="307.29999999999995" x2="309.9" y1="153.30" y2="153.30" stroke="#3c3c3c" stroke-width="0.85"/>
<text x="304.9" y="155.90" font-size="6.5" text-anchor="end" font-family="DejaVu Sans, Liberation Sans, sans-serif" fill="#000" stroke="#000" stroke-width="0.32">0.5</text>
<text x="427.25" y="284.55" font-size="6.8" text-anchor="middle" font-family="DejaVu Sans, Liberation Sans, sans-serif" fill="#000" stroke="#000" stroke-width="0.32">Days post innoculation</text>
<text transform="translate(290.59999999999997,208.8) rotate(-90)" font-size="6.75" text-anchor="middle" font-family="DejaVu Sans, Liberation Sans, sans-serif" fill="#000" stroke="#000" stroke-width="0.32">Frequency of celluar infection</text>
<text x="531.2" y="164.95000000000002" font-size="6.75" text-anchor="end" font-family="DejaVu Sans, Liberation Sans, sans-serif" fill="#000" stroke="#000" stroke-width="0.32">Leaf 7</text>
<text x="285.7" y="150.4" font-size="10.3" font-weight="bold" font-family="DejaVu Sans, Liberation Sans, sans-serif" fill="#000" stroke="#000" stroke-width="0.3">D</text>
</g>
<rect x="31" y="16.4" width="90.2" height="41.3" rx="1.2" fill="#fff" fill-opacity="0.8" stroke="#ccc" stroke-width="0.7"/>
<line x1="33.4" x2="48" y1="21.8" y2="21.8" stroke="#228B22" stroke-width="1.5"/>
<line x1="33.7" x2="48.1" y1="31.9" y2="31.9" stroke="#FFD700" stroke-width="1.35" stroke-dasharray="7 1.75 1.1 1.75"/>
<circle cx="40.8" cy="42.7" r="3.0" fill="none" stroke="#0c0cfa" stroke-width="1.1"/>
<line x1="37.2" x2="44.4" y1="52.3" y2="52.3" stroke="#f80808" stroke-width="1.2"/>
<text x="53.3" y="24.3" font-size="6.78" font-family="DejaVu Sans, Liberation Sans, sans-serif" fill="#000" stroke="#000" stroke-width="0.32">NegLogLike</text>
<text x="53.3" y="34.7" font-size="6.78" font-family="DejaVu Sans, Liberation Sans, sans-serif" fill="#000" stroke="#000" stroke-width="0.32">Least Squares (log)</text>
<text x="53.3" y="44.6" font-size="6.78" font-family="DejaVu Sans, Liberation Sans, sans-serif" fill="#000" stroke="#000" stroke-width="0.32">Data</text>
<text x="53.3" y="54.4" font-size="6.78" font-family="DejaVu Sans, Liberation Sans, sans-serif" fill="#000" stroke="#000" stroke-width="0.32">Average</text>
</svg></body></html>
